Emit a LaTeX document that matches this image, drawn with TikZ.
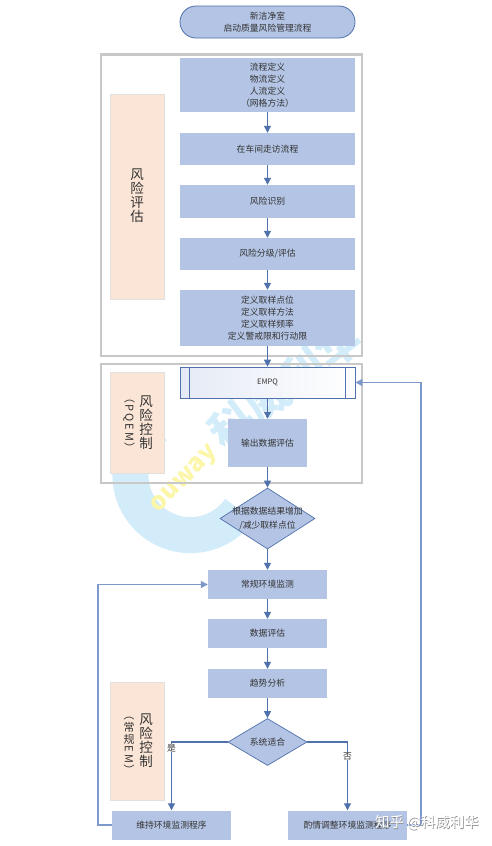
\documentclass[tikz,border=0pt]{standalone}
\usepackage{fontspec}
\setmainfont{Noto Sans CJK SC}
\usetikzlibrary{arrows.meta,shapes.geometric,shapes.misc}
\definecolor{boxfill}{HTML}{B4C4E4}
\definecolor{edgeblue}{HTML}{4F71AC}
\definecolor{loopblue}{HTML}{7D99CC}
\definecolor{framegray}{HTML}{C8C8C8}
\definecolor{sidefill}{HTML}{FBE5D6}
\definecolor{markblue}{HTML}{D3ECFA}
\definecolor{markyellow}{HTML}{FBF6A8}
\newcommand{\rotch}[1]{\rotatebox[origin=c]{-90}{#1}}
\tikzset{
  x=1pt,y=-1pt,
  flowbox/.style={draw=none,fill=boxfill,minimum width=#1,inner sep=0pt,align=center,font=\fontsize{8.8}{12}\selectfont,text=black!80},
  framebox/.style={draw=framegray,line width=2.4pt},
  sidebox/.style={fill=sidefill,draw=black!12,line width=.4pt},
  sidetext/.style={align=center,font=\fontsize{13.5}{14}\selectfont,text=black!80,inner sep=0pt},
  flowarrow/.style={draw=edgeblue,line width=1.2pt,-{Triangle[length=7pt,width=7pt,fill=edgeblue]}},
  looparrow/.style={draw=loopblue,line width=1.2pt,-{Triangle[length=7pt,width=7pt,fill=loopblue]}},
  lbl/.style={font=\fontsize{8.8}{10}\selectfont,fill=white,inner sep=.5pt,text=black!80},
}
\begin{document}
\begin{tikzpicture}
\useasboundingbox (0,0) rectangle (492,846);
\fill[white] (0,0) rectangle (492,846);
% watermark
\draw[markblue,line width=36pt] (156,426) arc[start angle=-125,end angle=-325,radius=60];
\node[rotate=37,font=\bfseries\fontsize{44}{44}\selectfont,text=markblue,inner sep=0] (wma) at (285,385) {科威利华};
\node[rotate=45,font=\bfseries\fontsize{25}{25}\selectfont,text=markyellow,inner sep=0] (wmb) at (185,480) {ouway};
% side panels
\node[sidebox,minimum width=54pt,minimum height=205pt,inner sep=0] (s1) at (137,196.5) {};
\node[sidebox,minimum width=54pt,minimum height=101pt,inner sep=0] (s2) at (137,422.5) {};
\node[sidebox,minimum width=54pt,minimum height=118pt,inner sep=0] (s3) at (137,741) {};
\node[sidetext] at (137,196) {风\\险\\评\\估};
\node[sidetext] at (146,423) {风\\险\\控\\制};
\node[sidetext,rotate=-90,font=\fontsize{11}{13}\selectfont] at (129,423) {（\,P\,Q\,E\,M\,）};
\node[sidetext] at (146,741) {风\\险\\控\\制};
\node[sidetext,font=\fontsize{11}{12.6}\selectfont] at (129,742) {\rotch{（}\\常\\规\\\rotch{E\,M}\\\rotch{）}};
% flow nodes
\node[flowbox=175pt,rounded rectangle,draw=edgeblue,line width=.8pt,minimum height=32pt] (n0) at (267.5,22) {新洁净室\\启动质量风险管理流程};
\node[flowbox=175pt,minimum height=54pt] (n1) at (267.5,85) {流程定义\\物流定义\\人流定义\\（网格方法）};
\node[flowbox=175pt,minimum height=32pt] (n2) at (267.5,149) {在车间走访流程};
\node[flowbox=175pt,minimum height=33pt] (n3) at (267.5,201.5) {风险识别};
\node[flowbox=175pt,minimum height=32pt] (n4) at (267.5,254) {风险分级/评估};
\node[flowbox=175pt,minimum height=56pt] (n5) at (267.5,318) {定义取样点位\\定义取样方法\\定义取样频率\\定义警戒限和行动限};
\node[flowbox=175pt,minimum height=31pt,draw=edgeblue,line width=.8pt,left color=boxfill!35,right color=white,font=\fontsize{7.5}{10}\selectfont] (n6) at (267.5,382.5) {EMPQ};
\draw[edgeblue,line width=.8pt] ([xshift=10pt]n6.north west) -- ([xshift=10pt]n6.south west) ([xshift=-10pt]n6.north east) -- ([xshift=-10pt]n6.south east);
\node[flowbox=79pt,minimum height=48pt] (n7) at (267.5,443) {输出数据评估};
\node[diamond,aspect=1.53,flowbox=95pt,minimum height=61pt,draw=edgeblue,line width=.7pt] (d1) at (267.5,518.5) {};
\node[font=\fontsize{8.8}{13.3}\selectfont,align=center,text=black!80,inner sep=0] at (267.5,518.5) {根据数据结果增加\\/减少取样点位};
\node[flowbox=119pt,minimum height=29pt] (n8) at (267.5,584.5) {常规环境监测};
\node[flowbox=119pt,minimum height=29pt] (n9) at (267.5,633.5) {数据评估};
\node[flowbox=119pt,minimum height=29pt] (n10) at (267.5,683.5) {趋势分析};
\node[diamond,aspect=1.68,flowbox=79pt,minimum height=47pt,draw=edgeblue,line width=.7pt] (d2) at (267.5,742) {};
\node[font=\fontsize{8.8}{10}\selectfont,text=black!80,inner sep=0] at (267.5,742) {系统适合};
\node[flowbox=119pt,minimum height=29pt] (n11) at (171.5,825) {维持环境监测程序};
\node[flowbox=119pt,minimum height=29pt] (n12) at (347.5,825) {酌情调整环境监测程序};
% gray frames
\draw[framebox] (101,54.5) rectangle (362,356);
\draw[framebox] (101,364) rectangle (362,483);
% connectors
\draw[flowarrow] (n1) -- (n2);
\draw[flowarrow] (n2) -- (n3);
\draw[flowarrow] (n3) -- (n4);
\draw[flowarrow] (n4) -- (n5);
\draw[flowarrow] (n5) -- (n6);
\draw[flowarrow] (n6) -- (n7);
\draw[flowarrow] (n7) -- (d1);
\draw[flowarrow] (d1) -- (n8);
\draw[flowarrow] (n8) -- (n9);
\draw[flowarrow] (n9) -- (n10);
\draw[flowarrow] (n10) -- (d2);
\draw[flowarrow] (d2.west) -| (n11.north) node[pos=.544,lbl] {是};
\draw[flowarrow] (d2.east) -| (n12.north) node[pos=.603,lbl] {否};
\coordinate (lc) at (98,825);
\coordinate (rc) at (421,825);
\draw[looparrow] (n11.west) -- (lc) |- (n8.west);
\draw[looparrow] (n12.east) -- (rc) |- (n6.east);
% site watermark
\node[font=\fontsize{14.5}{14.5}\selectfont,text=black!45,inner sep=0] (wm2) at (427.6,823.6) {知乎 @科威利华};
\node[font=\fontsize{14.5}{14.5}\selectfont,text=white,inner sep=0] (wm) at (427,823) {知乎 @科威利华};
\end{tikzpicture}
\end{document}
